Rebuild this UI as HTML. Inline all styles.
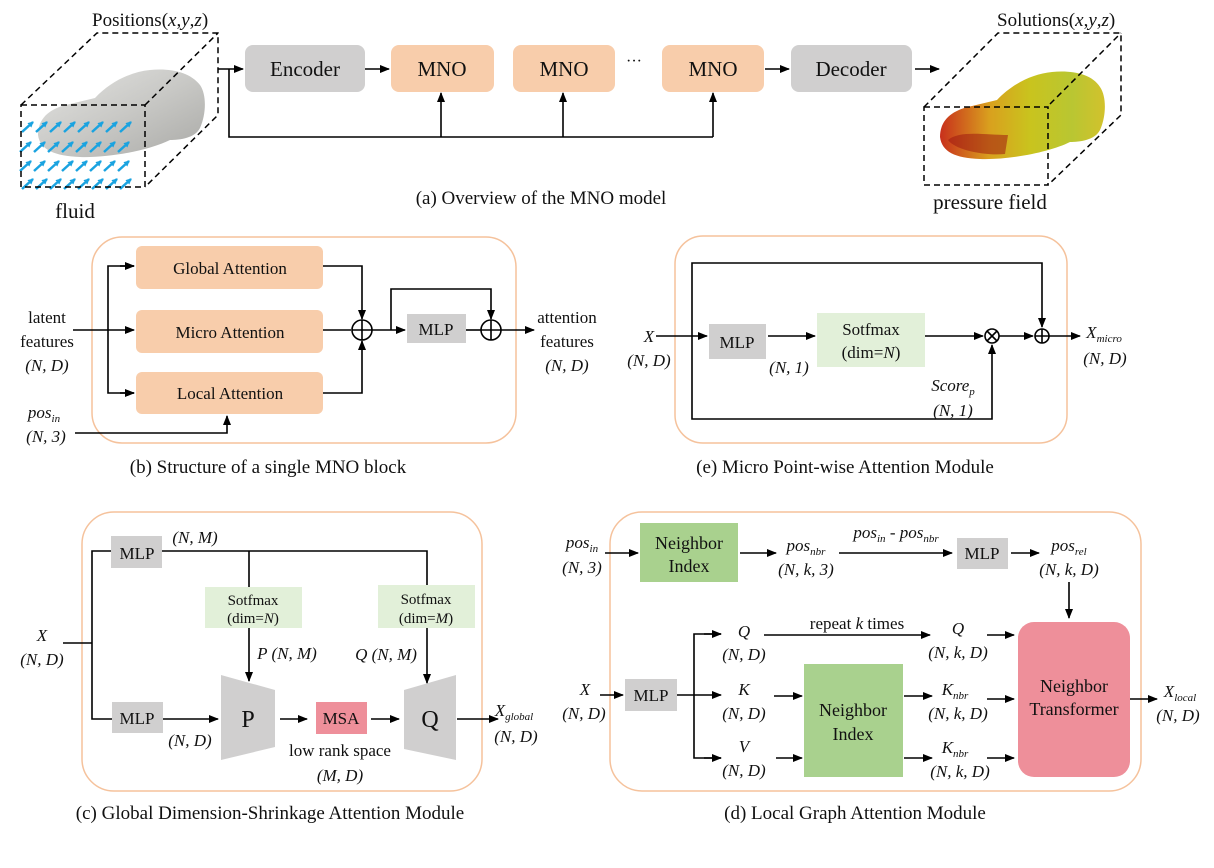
<!DOCTYPE html>
<html><head><meta charset="utf-8"><style>
html,body{margin:0;padding:0;background:#fff}
svg{display:block}
text{font-family:"Liberation Serif",serif;fill:#111}
.i{font-style:italic}
</style></head><body>
<svg width="1214" height="868" viewBox="0 0 1214 868" xmlns="http://www.w3.org/2000/svg">
<defs>
<marker id="a" markerWidth="10" markerHeight="8" refX="9" refY="4" orient="auto" markerUnits="userSpaceOnUse"><path d="M0,0 L10,4 L0,8 z" fill="#000"/></marker>
<marker id="b" markerWidth="6" markerHeight="6" refX="5" refY="3" orient="auto" markerUnits="userSpaceOnUse"><path d="M0,0 L6,3 L0,6 z" fill="#1aa3e0"/></marker>
<linearGradient id="gc" x1="0" y1="0" x2="1" y2="1"><stop offset="0" stop-color="#e4e4e2"/><stop offset="0.5" stop-color="#c9c9c6"/><stop offset="1" stop-color="#a9a9a6"/></linearGradient>
<linearGradient id="pc" x1="0" y1="0" x2="1" y2="0"><stop offset="0" stop-color="#c8301c"/><stop offset="0.3" stop-color="#d9a01e"/><stop offset="0.55" stop-color="#c9c41e"/><stop offset="0.8" stop-color="#b9c632"/><stop offset="1" stop-color="#d2c22c"/></linearGradient>
</defs>
<g stroke="#000" stroke-width="1.6" fill="none">

<!-- ===== (a) ===== -->
<path d="M38,135 C38,118 50,108 70,104 L95,98 C110,82 130,72 150,70 C170,68 190,72 200,85 C207,95 206,115 200,128 C195,138 180,140 170,140 C150,150 110,158 80,157 C55,156 40,150 38,135z" fill="url(#gc)" stroke="none"/>
<g stroke="#1aa3e0" stroke-width="2.5" marker-end="url(#b)">
<path d="M22,132 l11,-10"/><path d="M36,132 l11,-10"/><path d="M50,132 l11,-10"/><path d="M64,132 l11,-10"/><path d="M78,132 l11,-10"/><path d="M92,132 l11,-10"/><path d="M106,132 l11,-10"/><path d="M120,132 l11,-10"/>
<path d="M20,152 l11,-10"/><path d="M34,152 l11,-10"/><path d="M48,152 l11,-10"/><path d="M62,152 l11,-10"/><path d="M76,152 l11,-10"/><path d="M90,152 l11,-10"/><path d="M104,152 l11,-10"/><path d="M118,152 l11,-10"/>
<path d="M20,171 l11,-10"/><path d="M34,171 l11,-10"/><path d="M48,171 l11,-10"/><path d="M62,171 l11,-10"/><path d="M76,171 l11,-10"/><path d="M90,171 l11,-10"/><path d="M104,171 l11,-10"/><path d="M118,171 l11,-10"/>
<path d="M22,189 l11,-10"/><path d="M36,189 l11,-10"/><path d="M50,189 l11,-10"/><path d="M64,189 l11,-10"/><path d="M78,189 l11,-10"/><path d="M92,189 l11,-10"/><path d="M106,189 l11,-10"/><path d="M120,189 l11,-10"/>
</g>
<g stroke-dasharray="6,4" stroke-width="1.5">
<rect x="21" y="105" width="124" height="82"/>
<path d="M21,105 L97,33 L218,33 L218,115 L145,187 M145,105 L218,33"/>
</g>
<path d="M940,137 C940,120 952,110 972,106 L997,100 C1012,84 1032,74 1052,72 C1072,70 1092,74 1100,87 C1107,97 1106,117 1100,130 C1095,140 1080,142 1070,142 C1050,152 1010,160 980,159 C955,158 942,152 940,137z" fill="url(#pc)" stroke="none"/>
<path d="M948,140 C955,150 985,156 1005,154 L1008,135 C985,135 960,130 948,140z" fill="#9e1a10" stroke="none" opacity="0.55"/>
<g stroke-dasharray="6,4" stroke-width="1.5">
<rect x="924" y="107" width="124" height="78"/>
<path d="M924,107 L998,33 L1121,33 L1121,115 L1048,185 M1050,104 L1121,33"/>
</g>
<rect x="245" y="45" width="120" height="47" rx="8" fill="#d0cfcf" stroke="none"/>
<rect x="391" y="45" width="103" height="47" rx="8" fill="#f8cdab" stroke="none"/>
<rect x="513" y="45" width="102" height="47" rx="8" fill="#f8cdab" stroke="none"/>
<rect x="662" y="45" width="102" height="47" rx="8" fill="#f8cdab" stroke="none"/>
<rect x="791" y="45" width="121" height="47" rx="8" fill="#d0cfcf" stroke="none"/>
<path d="M218,69 H243" marker-end="url(#a)"/>
<path d="M365,69 H389" marker-end="url(#a)"/>
<path d="M765,69 H789" marker-end="url(#a)"/>
<path d="M915,69 H939" marker-end="url(#a)"/>
<path d="M229,69 V137 H713"/>
<path d="M441,137 V93" marker-end="url(#a)"/>
<path d="M563,137 V93" marker-end="url(#a)"/>
<path d="M713,137 V93" marker-end="url(#a)"/>

<!-- ===== (b) ===== -->
<rect x="92" y="237" width="424" height="206" rx="30" stroke="#f5c29c" stroke-width="1.5"/>
<rect x="136" y="246" width="187" height="43" rx="6" fill="#f8cdab" stroke="none"/>
<rect x="136" y="310" width="187" height="43" rx="6" fill="#f8cdab" stroke="none"/>
<rect x="136" y="372" width="187" height="42" rx="6" fill="#f8cdab" stroke="none"/>
<rect x="407" y="314" width="59" height="29" fill="#d0cfcf" stroke="none"/>
<path d="M73,330 H134" marker-end="url(#a)"/>
<path d="M134,266 H108 V393 H134" />
<path d="M120,266 H134" marker-end="url(#a)"/>
<path d="M120,393 H134" marker-end="url(#a)"/>
<path d="M323,266 H362 V319" marker-end="url(#a)"/>
<path d="M323,393 H362 V341" marker-end="url(#a)"/>
<path d="M323,330 H351"/>
<circle cx="362" cy="330" r="10"/><path d="M352,330 H372 M362,320 V340"/>
<path d="M372,330 H405" marker-end="url(#a)"/>
<path d="M391,330 V289 H491 V319" marker-end="url(#a)"/>
<path d="M466,330 H481"/>
<circle cx="491" cy="330" r="10"/><path d="M481,330 H501 M491,320 V340"/>
<path d="M501,330 H534" marker-end="url(#a)"/>
<path d="M75,433 H227 V416" marker-end="url(#a)"/>

<!-- ===== (e) ===== -->
<rect x="675" y="236" width="392" height="207" rx="28" stroke="#f5c29c" stroke-width="1.5"/>
<rect x="709" y="324" width="57" height="35" fill="#d0cfcf" stroke="none"/>
<rect x="817" y="313" width="108" height="54" fill="#e2f0d9" stroke="none"/>
<path d="M656,336 H707" marker-end="url(#a)"/>
<path d="M768,336 H815" marker-end="url(#a)"/>
<path d="M925,336 H983" marker-end="url(#a)"/>
<circle cx="992" cy="336" r="7"/><path d="M987,331 L997,341 M997,331 L987,341"/>
<path d="M999,336 H1033" marker-end="url(#a)"/>
<circle cx="1042" cy="336" r="7"/><path d="M1035,336 H1049 M1042,329 V343"/>
<path d="M1049,336 H1080" marker-end="url(#a)"/>
<path d="M692,336 V263 H1042 V327" marker-end="url(#a)"/>
<path d="M692,336 V419 H992 V345" marker-end="url(#a)"/>

<!-- ===== (c) ===== -->
<rect x="82" y="512" width="400" height="279" rx="32" stroke="#f5c29c" stroke-width="1.5"/>
<rect x="111" y="536" width="51" height="32" fill="#d0cfcf" stroke="none"/>
<rect x="112" y="702" width="51" height="31" fill="#d0cfcf" stroke="none"/>
<rect x="205" y="587" width="97" height="41" fill="#e2f0d9" stroke="none"/>
<rect x="378" y="585" width="97" height="43" fill="#e2f0d9" stroke="none"/>
<path d="M221,675 L275,690 L275,747 L221,760 z" fill="#d0cfcf" stroke="none"/>
<path d="M404,690 L456,675 L456,760 L404,749 z" fill="#d0cfcf" stroke="none"/>
<rect x="316" y="702" width="51" height="32" fill="#ee8f9a" stroke="none"/>
<path d="M63,643 H92"/>
<path d="M111,551 H92 V719 H112"/>
<path d="M162,551 H427 V585"/>
<path d="M249,551 V587"/>
<path d="M249,628 V681" marker-end="url(#a)"/>
<path d="M427,628 V683" marker-end="url(#a)"/>
<path d="M163,719 H218" marker-end="url(#a)"/>
<path d="M280,719 H307" marker-end="url(#a)"/>
<path d="M371,719 H399" marker-end="url(#a)"/>
<path d="M457,719 H498" marker-end="url(#a)"/>

<!-- ===== (d) ===== -->
<rect x="610" y="512" width="531" height="279" rx="32" stroke="#f5c29c" stroke-width="1.5"/>
<rect x="640" y="523" width="98" height="59" fill="#a9d18e" stroke="none"/>
<rect x="957" y="538" width="51" height="31" fill="#d0cfcf" stroke="none"/>
<rect x="625" y="679" width="52" height="32" fill="#d0cfcf" stroke="none"/>
<rect x="804" y="664" width="99" height="113" fill="#a9d18e" stroke="none"/>
<rect x="1018" y="622" width="112" height="155" rx="16" fill="#ee8f9a" stroke="none"/>
<path d="M605,553 H638" marker-end="url(#a)"/>
<path d="M740,553 H776" marker-end="url(#a)"/>
<path d="M839,553 H952" marker-end="url(#a)"/>
<path d="M1011,553 H1039" marker-end="url(#a)"/>
<path d="M1069,582 V618" marker-end="url(#a)"/>
<path d="M600,695 H623" marker-end="url(#a)"/>
<path d="M677,695 H721" marker-end="url(#a)"/>
<path d="M721,634 H694 V758 H721"/>
<path d="M704,634 H721" marker-end="url(#a)"/>
<path d="M704,758 H721" marker-end="url(#a)"/>
<path d="M764,635 H930" marker-end="url(#a)"/>
<path d="M987,635 H1014" marker-end="url(#a)"/>
<path d="M774,696 H802" marker-end="url(#a)"/>
<path d="M776,758 H802" marker-end="url(#a)"/>
<path d="M904,696 H932" marker-end="url(#a)"/>
<path d="M904,758 H932" marker-end="url(#a)"/>
<path d="M987,699 H1014" marker-end="url(#a)"/>
<path d="M987,758 H1014" marker-end="url(#a)"/>
<path d="M1130,699 H1157" marker-end="url(#a)"/>
</g>

<!-- ===== TEXT ===== -->
<g font-size="19">
<text x="92" y="26">Positions(<tspan class="i">x</tspan>,<tspan class="i">y</tspan>,<tspan class="i">z</tspan>)</text>
<text x="997" y="26">Solutions(<tspan class="i">x</tspan>,<tspan class="i">y</tspan>,<tspan class="i">z</tspan>)</text>
<text x="75" y="218" text-anchor="middle" font-size="21">fluid</text>
<text x="990" y="209" text-anchor="middle" font-size="21">pressure field</text>
<text x="541" y="204" text-anchor="middle">(a)  Overview of the MNO model</text>
<text x="268" y="473" text-anchor="middle">(b) Structure of a single MNO block</text>
<text x="845" y="473" text-anchor="middle">(e) Micro Point-wise Attention Module</text>
<text x="270" y="819" text-anchor="middle">(c) Global Dimension-Shrinkage Attention Module</text>
<text x="855" y="819" text-anchor="middle">(d) Local Graph Attention Module</text>
</g>
<g font-size="21" text-anchor="middle">
<text x="305" y="76">Encoder</text>
<text x="442" y="76">MNO</text>
<text x="564" y="76">MNO</text>
<text x="713" y="76">MNO</text>
<text x="851" y="76">Decoder</text>
<text x="634" y="66" font-size="16">···</text>
</g>
<g font-size="17" text-anchor="middle">
<text x="230" y="274">Global Attention</text>
<text x="230" y="338">Micro Attention</text>
<text x="230" y="399">Local Attention</text>
<text x="436" y="335">MLP</text>
<text x="47" y="323">latent</text>
<text x="47" y="347">features</text>
<text x="47" y="371" class="i">(N, D)</text>
<text x="567" y="323">attention</text>
<text x="567" y="347">features</text>
<text x="567" y="371" class="i">(N, D)</text>
<text x="44" y="418" class="i">pos<tspan font-size="11" dy="4">in</tspan></text>
<text x="46" y="442" class="i">(N, 3)</text>

<text x="649" y="342" class="i">X</text>
<text x="649" y="366" class="i">(N, D)</text>
<text x="737" y="348">MLP</text>
<text x="789" y="373" class="i">(N, 1)</text>
<text x="871" y="335">Sotfmax</text>
<text x="871" y="358">(dim=<tspan class="i">N</tspan>)</text>
<text x="953" y="391" class="i">Score<tspan font-size="11" dy="4">p</tspan></text>
<text x="953" y="416" class="i">(N, 1)</text>
<text x="1104" y="338" class="i">X<tspan font-size="11" dy="4">micro</tspan></text>
<text x="1105" y="364" class="i">(N, D)</text>

<text x="42" y="641" class="i">X</text>
<text x="42" y="665" class="i">(N, D)</text>
<text x="137" y="559">MLP</text>
<text x="137" y="724">MLP</text>
<text x="195" y="543" class="i">(N, M)</text>
<text x="253" y="605" font-size="15">Sotfmax</text>
<text x="253" y="623" font-size="15">(dim=<tspan class="i">N</tspan>)</text>
<text x="426" y="604" font-size="15">Sotfmax</text>
<text x="426" y="623" font-size="15">(dim=<tspan class="i">M</tspan>)</text>
<text x="287" y="659" class="i">P (N, M)</text>
<text x="386" y="660" class="i">Q (N, M)</text>
<text x="248" y="727" font-size="24">P</text>
<text x="430" y="727" font-size="24">Q</text>
<text x="341" y="724">MSA</text>
<text x="190" y="746" class="i">(N, D)</text>
<text x="340" y="756">low rank space</text>
<text x="340" y="781" class="i">(M, D)</text>
<text x="514" y="716" class="i">X<tspan font-size="11" dy="4">global</tspan></text>
<text x="516" y="742" class="i">(N, D)</text>

<text x="582" y="548" class="i">pos<tspan font-size="11" dy="4">in</tspan></text>
<text x="582" y="573" class="i">(N, 3)</text>
<text x="689" y="549" font-size="18">Neighbor</text>
<text x="689" y="572" font-size="18">Index</text>
<text x="806" y="551" class="i">pos<tspan font-size="11" dy="4">nbr</tspan></text>
<text x="806" y="575" class="i">(N, k, 3)</text>
<text x="896" y="538" class="i">pos<tspan font-size="11" dy="4">in</tspan><tspan dy="-4"> - pos</tspan><tspan font-size="11" dy="4">nbr</tspan></text>
<text x="982" y="559">MLP</text>
<text x="1069" y="551" class="i">pos<tspan font-size="11" dy="4">rel</tspan></text>
<text x="1069" y="575" class="i">(N, k, D)</text>
<text x="585" y="695" class="i">X</text>
<text x="584" y="719" class="i">(N, D)</text>
<text x="651" y="701">MLP</text>
<text x="744" y="637" class="i">Q</text>
<text x="744" y="660" class="i">(N, D)</text>
<text x="744" y="695" class="i">K</text>
<text x="744" y="719" class="i">(N, D)</text>
<text x="744" y="752" class="i">V</text>
<text x="744" y="776" class="i">(N, D)</text>
<text x="857" y="629">repeat <tspan class="i">k</tspan> times</text>
<text x="958" y="634" class="i">Q</text>
<text x="958" y="658" class="i">(N, k, D)</text>
<text x="955" y="695" class="i">K<tspan font-size="11" dy="4">nbr</tspan></text>
<text x="958" y="719" class="i">(N, k, D)</text>
<text x="955" y="753" class="i">K<tspan font-size="11" dy="4">nbr</tspan></text>
<text x="960" y="777" class="i">(N, k, D)</text>
<text x="853" y="716" font-size="18">Neighbor</text>
<text x="853" y="740" font-size="18">Index</text>
<text x="1074" y="692" font-size="18">Neighbor</text>
<text x="1074" y="715" font-size="18">Transformer</text>
<text x="1180" y="697" class="i">X<tspan font-size="11" dy="4">local</tspan></text>
<text x="1178" y="721" class="i">(N, D)</text>
</g>
</svg>
</body></html>
